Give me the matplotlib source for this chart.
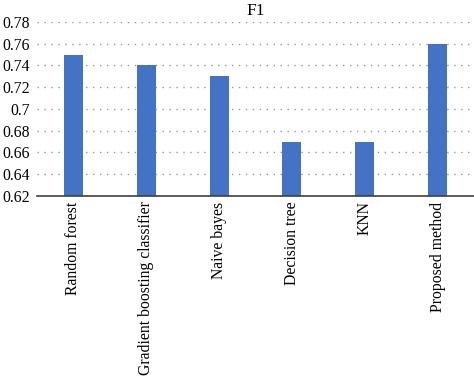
import matplotlib
matplotlib.use("Agg")
import matplotlib.pyplot as plt
from matplotlib.ticker import FuncFormatter

categories = ["Random forest", "Gradient boosting classifier", "Naive bayes",
              "Decision tree", "KNN", "Proposed method"]
f1_values = [0.75, 0.74, 0.73, 0.67, 0.67, 0.76]
y_ticks = [0.62, 0.64, 0.66, 0.68, 0.70, 0.72, 0.74, 0.76, 0.78]

plt.rcParams['font.family'] = ['Liberation Serif', 'DejaVu Serif']

fig = plt.figure(figsize=(4.74, 3.76), dpi=100)
ax = fig.add_axes([0.078, 0.479, 0.922, 0.4625])

x = list(range(len(categories)))
ax.bar(x, f1_values, width=0.26, color="#4472C4", zorder=3)
ax.set_xlim(-0.5, len(categories) - 0.5)
ax.set_ylim(0.62, 0.78)
ax.set_yticks(y_ticks)
ax.yaxis.set_major_formatter(FuncFormatter(lambda v, p: ("%.2f" % v).rstrip('0')))
ax.set_xticks(x)
ax.set_xticklabels(categories, rotation=90, fontsize=11.3)
ax.tick_params(axis='y', labelsize=11.3, length=0, pad=5)
ax.tick_params(axis='x', length=0, pad=4)
ax.grid(axis='y', linestyle=(0, (1, 4)), color="#999999", linewidth=1, zorder=0)
for s in ["top", "right", "left"]:
    ax.spines[s].set_visible(False)
ax.spines["bottom"].set_color("#404040")
ax.spines["bottom"].set_linewidth(1.2)
ax.spines["bottom"].set_zorder(4)
ax.set_title("F1", fontsize=12.5, pad=5)

fig.savefig("out.png", dpi=100)
